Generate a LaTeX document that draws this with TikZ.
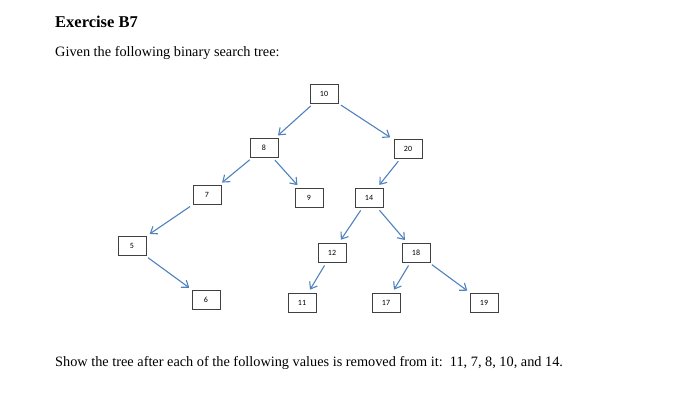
\documentclass[tikz,border=0pt]{standalone}
\usepackage{fontspec}
\setmainfont{Liberation Serif}
\newfontfamily\boxfont{Carlito}
\usetikzlibrary{arrows.meta}
\definecolor{arr}{RGB}{79,129,189}
\begin{document}
\begin{tikzpicture}[x=1pt,y=-1pt,
  bx/.style={draw=black!75,line width=0.8pt,minimum width=28pt,minimum height=19pt,inner sep=0pt,font=\boxfont\fontsize{8}{9}\selectfont},
  ar/.style={draw=arr,line width=1.1pt,-{Straight Barb[length=6pt,width=9pt]},shorten <=3pt,shorten >=4pt},
  txt/.style={anchor=west,inner sep=0pt,font=\fontsize{14.3}{16}\selectfont}]
\useasboundingbox (0,0) rectangle (700,409);
\node[txt,font=\bfseries\fontsize{16.5}{19}\selectfont] (t) at (55,22) {Exercise B7};
\node[txt] (g) at (55,53) {Given the following binary search tree:};
\node[txt] (s) at (55,363) {Show the tree after each of the following values is removed from it:\ \ 11, 7, 8, 10, and 14.};
\node[bx] (n10) at (324,94) {10};
\node[bx] (n8) at (264,148) {8};
\node[bx] (n20) at (408,149) {20};
\node[bx] (n7) at (207,195) {7};
\node[bx] (n9) at (309,198) {9};
\node[bx] (n14) at (369,198) {14};
\node[bx] (n5) at (132,246) {5};
\node[bx] (n12) at (332,253) {12};
\node[bx] (n18) at (416,253) {18};
\node[bx] (n6) at (206,300) {6};
\node[bx] (n11) at (302,303) {11};
\node[bx] (n17) at (386,303) {17};
\node[bx] (n19) at (484,303) {19};
\draw[ar] (n10) -- (n8);
\draw[ar] (n10) -- (n20);
\draw[ar] (n8) -- (n7);
\draw[ar] (n8) -- (n9);
\draw[ar] (n20) -- (n14);
\draw[ar] (n7) -- (n5);
\draw[ar] (n5) -- (n6);
\draw[ar] (n14) -- (n12);
\draw[ar] (n14) -- (n18);
\draw[ar] (n12) -- (n11);
\draw[ar] (n18) -- (n17);
\draw[ar] (n18) -- (n19);
\end{tikzpicture}
\end{document}
